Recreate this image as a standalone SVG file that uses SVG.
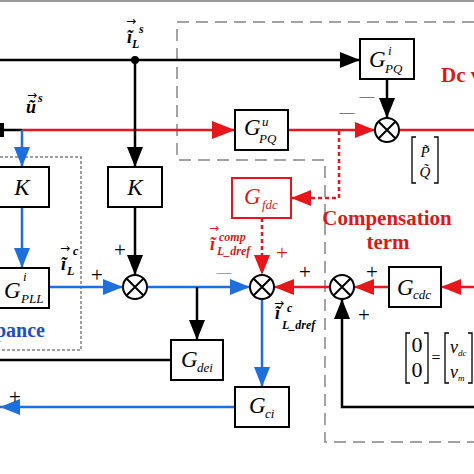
<svg xmlns="http://www.w3.org/2000/svg" width="474" height="474" viewBox="0 0 474 474">
<defs>
<marker id="ak" markerUnits="userSpaceOnUse" markerWidth="20" markerHeight="16" refX="20" refY="8" orient="auto"><path d="M0,0 L20,8 L0,16 z" fill="#000"/></marker>
<marker id="ar" markerUnits="userSpaceOnUse" markerWidth="20" markerHeight="16" refX="20" refY="8" orient="auto"><path d="M0,0 L20,8 L0,16 z" fill="#e8161b"/></marker>
<marker id="arL" markerUnits="userSpaceOnUse" markerWidth="23" markerHeight="18" refX="23" refY="9" orient="auto"><path d="M0,0 L23,9 L0,18 z" fill="#e8161b"/></marker>
<marker id="ab" markerUnits="userSpaceOnUse" markerWidth="20" markerHeight="16" refX="20" refY="8" orient="auto"><path d="M0,0 L20,8 L0,16 z" fill="#1c6fdc"/></marker>
</defs>
<style>
.k{stroke:#000;stroke-width:2.5;fill:none}
.r{stroke:#e8161b;stroke-width:2.5;fill:none}
.rd{stroke:#e8161b;stroke-width:2.5;fill:none;stroke-dasharray:4 3}
.b{stroke:#1c6fdc;stroke-width:2.5;fill:none}
.box{fill:#fff;stroke:#000;stroke-width:2}
.rbox{fill:#fff;stroke:#e8161b;stroke-width:2}
.sum{fill:#fff;stroke:#000;stroke-width:2}
.x{stroke:#000;stroke-width:2}
.gd{fill:none;stroke:#a3a3a3;stroke-width:2;stroke-dasharray:12 7}
.dot{fill:none;stroke:#808080;stroke-width:1.5;stroke-dasharray:3 2}
text{font-family:"Liberation Serif","Times New Roman",serif}
.G{font-style:italic;font-size:23px}
.s{font-style:italic;font-size:13px}
.v{font-style:italic;font-weight:bold;font-size:18px}
.vs{font-style:italic;font-weight:bold;font-size:12px}
.arw{font-family:"DejaVu Sans",sans-serif;font-size:12px}
.pl{font-size:21px;text-anchor:middle}
.mn{font-size:15px;text-anchor:middle}
.red{fill:#d81a1a}
.brk{fill:none;stroke:#000;stroke-width:1.3}
</style>
<rect x="0" y="0" width="474" height="474" fill="#fff"/>
<rect x="0" y="0" width="474" height="2" fill="#9a9a9a"/>

<g id="regions">
<path class="gd" d="M474,22 H177 V160 H325 V442 H474"/>
<path class="dot" d="M0,157 H81 V350 H0"/>
</g>

<g id="connectors">
<path class="r" d="M22,130 H235" marker-end="url(#arL)"/>
<path class="k" d="M0,130 H22"/>
<path d="M2,123 V137" stroke="#000" stroke-width="4"/>
<path class="b" d="M22,130 V167" marker-end="url(#ab)"/>
<path class="k" d="M0,60 H360" marker-end="url(#ak)"/>
<circle cx="135" cy="60" r="4" fill="#000"/>
<path class="k" d="M135,60 V167" marker-end="url(#ak)"/>
<path class="b" d="M22,207 V268" marker-end="url(#ab)"/>
<path class="r" d="M288,130 H375" marker-end="url(#ar)"/>
<path class="k" d="M387,79 V118" marker-end="url(#ak)"/>
<path class="r" d="M399,130 H474"/>
<path class="rd" d="M339,131 V198 H291" marker-end="url(#ar)"/>
<path class="rd" d="M262,218 V275" marker-end="url(#ar)"/>
<path class="b" d="M49,287 H123" marker-end="url(#ab)"/>
<path class="k" d="M135,207 V275" marker-end="url(#ak)"/>
<path class="b" d="M147,287 H250" marker-end="url(#ab)"/>
<path class="k" d="M197,287 V340" marker-end="url(#ak)"/>
<path class="k" d="M171,360 H0"/>
<path class="b" d="M262,299 V387" marker-end="url(#ab)"/>
<path class="b" d="M235,407 H0" marker-end="url(#ab)"/>
<path class="r" d="M330,287 H274" marker-end="url(#ar)"/>
<path class="r" d="M389,287 H354" marker-end="url(#ar)"/>
<path class="r" d="M474,287 H441" marker-end="url(#ar)"/>
<path class="k" d="M474,407 H342 V299" marker-end="url(#ak)"/>
</g>

<g id="K1"><rect class="box" x="-2" y="167" width="51" height="40"/><text class="G" x="22" y="195" text-anchor="middle">K</text></g>
<g id="K2"><rect class="box" x="108" y="167" width="54" height="40"/><text class="G" x="135" y="195" text-anchor="middle">K</text></g>
<g id="GPLL"><rect class="box" x="-2" y="268" width="51" height="40"/><text class="G" x="4" y="298">G</text><text class="s" x="23" y="281">i</text><text class="s" x="21" y="303">PLL</text></g>
<g id="GPQi"><rect class="box" x="360" y="39" width="54" height="40"/><text class="G" x="369" y="67">G</text><text class="s" x="388" y="55">i</text><text class="s" x="385" y="73">PQ</text></g>
<g id="GPQu"><rect class="box" x="235" y="110" width="53" height="40"/><text class="G" x="244" y="135">G</text><text class="s" x="262" y="126">u</text><text class="s" x="259" y="143">PQ</text></g>
<g id="Gfdc"><rect class="rbox" x="232" y="178" width="59" height="40"/><text class="G red" x="244" y="204">G</text><text class="s red" x="262" y="209">fdc</text></g>
<g id="Gcdc"><rect class="box" x="389" y="267" width="52" height="40"/><text class="G" x="397" y="295">G</text><text class="s" x="413" y="299">cdc</text></g>
<g id="Gdei"><rect class="box" x="171" y="340" width="52" height="40"/><text class="G" x="181" y="367">G</text><text class="s" x="197" y="372">dei</text></g>
<g id="Gci"><rect class="box" x="235" y="387" width="54" height="40"/><text class="G" x="249" y="413">G</text><text class="s" x="265" y="418">ci</text></g>

<g id="sumA"><circle class="sum" cx="135" cy="287" r="12"/><path class="x" d="M126.5,278.5 L143.5,295.5 M143.5,278.5 L126.5,295.5"/></g>
<g id="sumB"><circle class="sum" cx="262" cy="287" r="12"/><path class="x" d="M253.5,278.5 L270.5,295.5 M270.5,278.5 L253.5,295.5"/></g>
<g id="sumC"><circle class="sum" cx="342" cy="287" r="12"/><path class="x" d="M333.5,278.5 L350.5,295.5 M350.5,278.5 L333.5,295.5"/></g>
<g id="sumPQ"><circle class="sum" cx="387" cy="130" r="12"/><path class="x" d="M378.5,121.5 L395.5,138.5 M395.5,121.5 L378.5,138.5"/></g>

<g id="labels">
<text class="arw" x="126" y="25">→</text><text class="v" x="127" y="43">ĩ</text><text class="vs" x="132" y="48">L</text><text class="vs" x="139" y="33">s</text>
<text class="arw" x="27" y="99">→</text><text class="v" x="26" y="113">ũ</text><text class="vs" x="38" y="102">s</text>
<text class="arw" x="60" y="252">→</text><text class="v" x="61" y="270">ĩ</text><text class="vs" x="67" y="275">L</text><text class="vs" x="73" y="255">c</text>
<text class="arw red" x="209" y="232">→</text><text class="v red" x="210" y="250">ĩ</text><text class="vs red" x="219" y="241">comp</text><text class="vs red" x="217" y="255">L_dref</text>
<text class="arw" x="274" y="307">→</text><text class="v" x="275" y="319">ĩ</text><text class="vs" x="287" y="312">c</text><text class="vs" x="282" y="329">L_dref</text>

<text class="pl" x="120" y="257">+</text>
<text class="pl" x="97" y="282">+</text>
<text class="pl red" x="282" y="260">+</text>
<text class="pl" x="305" y="279">+</text>
<text class="pl" x="372" y="279">+</text>
<text class="pl" x="364" y="322">+</text>
<text class="pl" x="15" y="404">+</text>
<text class="mn" x="347" y="117">—</text>
<text class="mn" x="367" y="101">—</text>
<text class="mn" x="224" y="277" font-size="19" fill="#555">—</text>

<text x="387" y="225" font-size="21" font-weight="bold" text-anchor="middle" class="red">Compensation</text>
<text x="388" y="249" font-size="21" font-weight="bold" text-anchor="middle" class="red">term</text>
<text x="441" y="82" font-size="21" font-weight="bold" class="red">Dc v</text>
<text x="45" y="337" font-size="20" font-weight="bold" text-anchor="end" fill="#1f4fc0">pance</text>
</g>

<g id="matrixPQ">
<path class="brk" d="M416,137 H412 V183 H416 M434,137 H438 V183 H434"/>
<text x="425" y="157" font-size="15" font-style="italic" text-anchor="middle">P̃</text>
<text x="425" y="177" font-size="15" font-style="italic" text-anchor="middle">Q̃</text>
</g>
<g id="matrixV">
<path class="brk" d="M410,333 H406 V383 H410 M424,333 H428 V383 H424 M449,333 H445 V383 H449 M468,333 H472 V383 H468"/>
<text x="417" y="352" font-size="22" text-anchor="middle">0</text>
<text x="417" y="377" font-size="22" text-anchor="middle">0</text>
<text x="436" y="363" font-size="16" text-anchor="middle">=</text>
<text x="450" y="353" font-size="18" font-style="italic">v</text><text x="458" y="356" font-size="9" font-style="italic">dc</text>
<text x="450" y="378" font-size="18" font-style="italic">v</text><text x="458" y="381" font-size="9" font-style="italic">m</text>
</g>
</svg>
